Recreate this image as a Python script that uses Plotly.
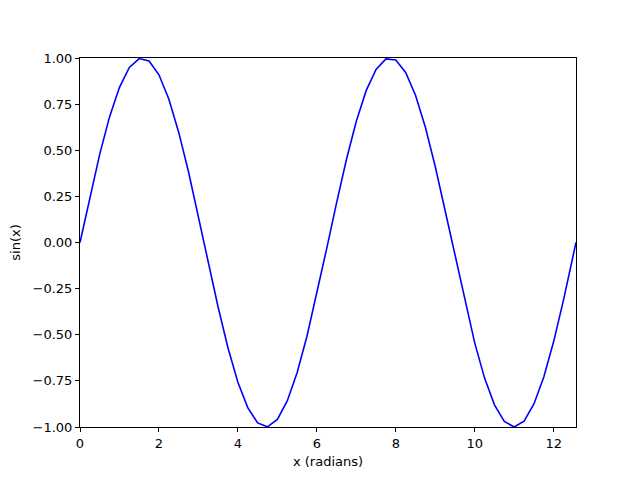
import plotly.graph_objects as go

# ---- data (sin curve, 0 .. 4*pi) ----
x_vals = [0.0, 0.25, 0.5, 0.75, 1.0, 1.25, 1.5, 1.75, 2.0, 2.25, 2.5, 2.75,
          3.0, 3.25, 3.5, 3.75, 4.0, 4.25, 4.5, 4.75, 5.0, 5.25, 5.5, 5.75,
          6.0, 6.25, 6.5, 6.75, 7.0, 7.25, 7.5, 7.75, 8.0, 8.25, 8.5, 8.75,
          9.0, 9.25, 9.5, 9.75, 10.0, 10.25, 10.5, 10.75, 11.0, 11.25, 11.5,
          11.75, 12.0, 12.25, 12.5, 12.566]
y_vals = [0.0, 0.247, 0.479, 0.682, 0.841, 0.949, 0.997, 0.984, 0.909, 0.778,
          0.598, 0.382, 0.141, -0.108, -0.351, -0.572, -0.757, -0.895, -0.978,
          -0.999, -0.959, -0.859, -0.706, -0.508, -0.279, -0.033, 0.215, 0.45,
          0.657, 0.823, 0.938, 0.995, 0.989, 0.922, 0.798, 0.625, 0.412, 0.174,
          -0.075, -0.319, -0.544, -0.735, -0.88, -0.97, -1.0, -0.968, -0.875,
          -0.729, -0.537, -0.311, -0.066, 0.0]

x_ticks = [0, 2, 4, 6, 8, 10, 12]
y_ticks = [-1.0, -0.75, -0.5, -0.25, 0.0, 0.25, 0.5, 0.75, 1.0]

_AXIS = dict(
    showgrid=False, zeroline=False, automargin=False,
    showline=True, linecolor="black", linewidth=1, mirror=True,
    ticks="outside", ticklen=4, tickcolor="black", tickwidth=1,
    tickfont=dict(color="black", size=13),
)

fig = go.Figure()
fig.add_trace(go.Scatter(
    x=x_vals, y=y_vals, mode="lines",
    line=dict(color="#0000ff", width=1.6),
    showlegend=False,
))

# page body adds an 8px offset, so margins are shifted to compensate
fig.update_layout(
    width=640, height=480,
    paper_bgcolor="white", plot_bgcolor="white",
    font=dict(family="DejaVu Sans", color="black", size=13),
    margin=dict(l=72, r=72, t=50, b=61),
    xaxis=dict(**_AXIS, range=[0, 12.566], tickvals=x_ticks,
               title=dict(text="x (radians)", standoff=7,
                          font=dict(size=13, color="black"))),
    yaxis=dict(**_AXIS, range=[-1, 1], tickvals=y_ticks,
               ticktext=[f"{v:.2f}".replace("-", "\u2212") for v in y_ticks],
               title=dict(text="sin(x)", standoff=9,
                          font=dict(size=13, color="black"))),
)

fig.write_html("out.html")
